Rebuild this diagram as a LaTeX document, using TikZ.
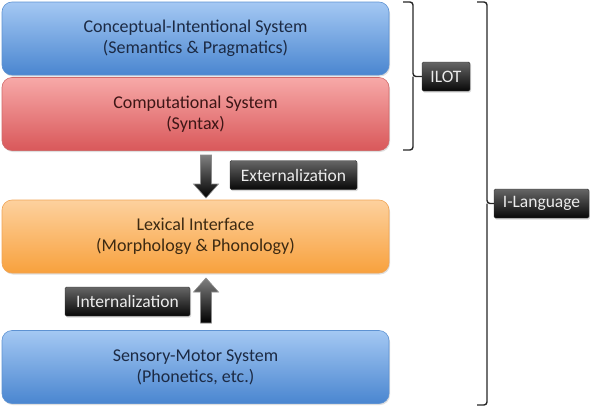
\documentclass[tikz,border=0pt]{standalone}
\usepackage{fontspec}
\setmainfont{Carlito}
\usetikzlibrary{shadows}
\definecolor{bluetop}{HTML}{A4C8F3}
\definecolor{bluebot}{HTML}{4A86D0}
\definecolor{blueline}{HTML}{5E92D2}
\definecolor{redtop}{HTML}{F7A9A8}
\definecolor{redbot}{HTML}{D9585A}
\definecolor{redline}{HTML}{D06A6A}
\definecolor{ortop}{HTML}{FDD19E}
\definecolor{orbot}{HTML}{F8A13D}
\definecolor{orline}{HTML}{F0A455}
\definecolor{bluetext}{HTML}{1C2A44}
\definecolor{redtext}{HTML}{3E1616}
\definecolor{ortext}{HTML}{3D2A12}
\begin{document}
\begin{tikzpicture}[x=1pt,y=-1pt,
  sysbox/.style={rounded corners=10pt, minimum width=387pt, minimum height=73pt,
    align=center, inner sep=0pt, font=\fontsize{18}{21}\selectfont, line width=0.6pt,
    drop shadow={opacity=0.25, shadow xshift=1pt, shadow yshift=-1.5pt}},
  bluebox/.style={sysbox, top color=bluetop, bottom color=bluebot, draw=blueline, text=bluetext},
  redbox/.style={sysbox, top color=redtop, bottom color=redbot, draw=redline, text=redtext},
  orbox/.style={sysbox, top color=ortop, bottom color=orbot, draw=orline, text=ortext},
  tag/.style={rounded corners=1.5pt, minimum height=29pt, inner sep=0pt,
    top color=black!60, bottom color=black!97, draw=black!80, text=black!8,
    font=\fontsize{17.5}{20}\selectfont,
    drop shadow={opacity=0.3, shadow xshift=1pt, shadow yshift=-1.5pt}},
  blockarrow/.style={top color=black!50, bottom color=black, draw=black!45, line width=0.6pt},
  brace/.style={line width=1.4pt, draw=black!85, rounded corners=3pt}
]
\useasboundingbox (0,0) rectangle (590,410);

\node[bluebox] (ci) at (195.5,38.5) {Conceptual-Intentional System\\(Semantics \& Pragmatics)};
\node[redbox] (cs) at (195.5,114) {Computational System\\(Syntax)};
\node[orbox] (li) at (195.5,236.5) {Lexical Interface\\(Morphology \& Phonology)};
\node[bluebox] (sm) at (195.5,367) {Sensory-Motor System\\(Phonetics, etc.)};

\coordinate (dtop) at (206,155);
\coordinate (utip) at (206,278);
\shade[blockarrow, shift={(dtop)}] (-5.5,0) -- (5.5,0) -- (5.5,29) -- (12.5,29) -- (0,43) -- (-12.5,29) -- (-5.5,29) -- cycle;
\shade[blockarrow, shift={(utip)}] (0,0) -- (12.5,14) -- (5.5,14) -- (5.5,45) -- (-5.5,45) -- (-5.5,14) -- (-12.5,14) -- cycle;

\node[tag, minimum width=127pt] (ext) at (293.5,175) {Externalization};
\node[tag, minimum width=125pt] (int) at (127.5,301.5) {Internalization};

\node[tag, minimum width=48pt] (ilot) at (446,76.5) {ILOT};
\node[tag, minimum width=95pt] (ilang) at (541.5,203.5) {I-Language};

\coordinate (b1t) at (403,2);
\coordinate (b1m) at (413,76.5);
\coordinate (b1b) at (403,150);
\coordinate (b2t) at (477,2);
\coordinate (b2m) at (487,203.5);
\coordinate (b2b) at (477,405);

\draw[brace] (b1t) -| (b1m) -- (ilot.west);
\draw[brace] (b1m) |- (b1b);
\draw[brace] (b2t) -| (b2m) -- (ilang.west);
\draw[brace] (b2m) |- (b2b);
\end{tikzpicture}
\end{document}
